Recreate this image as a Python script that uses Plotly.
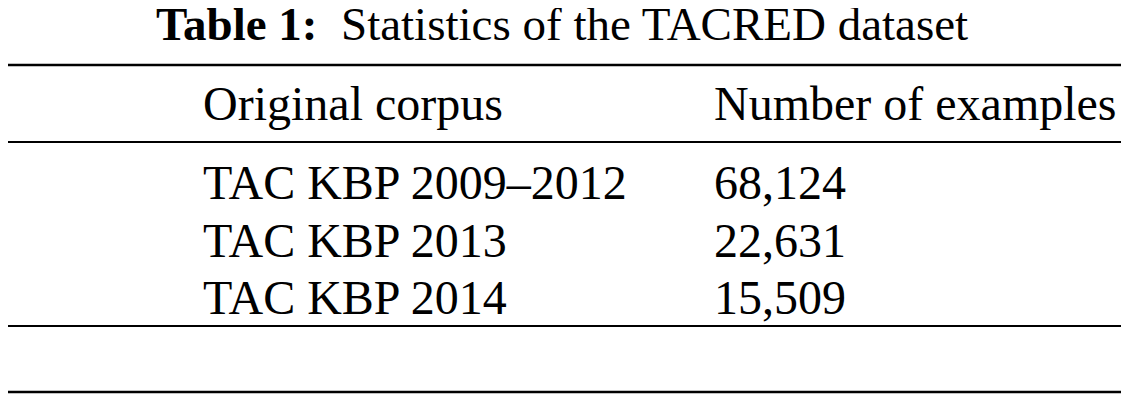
import plotly.graph_objects as go

title_bold = "Table 1:"
title_text = "Statistics of the TACRED dataset"
headers = ["Split", "Original corpus", "Number of examples"]
splits = ["Train", "Dev", "Test"]
corpora = ["TAC KBP 2009–2012", "TAC KBP 2013", "TAC KBP 2014"]
examples = ["68,124", "22,631", "15,509"]
total_row = "Total 106,264"

col_x = [6, 201, 712]
row_y = [182, 240, 297]
font = dict(family="Liberation Serif", size=48, color="black")

fig = go.Figure()
ann = []
ann.append(dict(x=562, y=24, text=f"<b>{title_bold}</b>  {title_text}", showarrow=False,
                xanchor="center", yanchor="middle", font=dict(family="Liberation Serif", size=47, color="black")))
for h, x in zip(headers, col_x):
    ann.append(dict(x=x, y=103, text=h, showarrow=False, xanchor="left", yanchor="middle", font=font))
for i, y in enumerate(row_y):
    for val, x in zip([splits[i], corpora[i], examples[i]], col_x):
        ann.append(dict(x=x, y=y, text=val, showarrow=False, xanchor="left", yanchor="middle", font=font))
ann.append(dict(x=col_x[0], y=355, text=total_row, showarrow=False, xanchor="left", yanchor="middle", font=font))

shapes = []
for y, w in [(65, 2.5), (142, 1.8), (326, 1.8), (392, 2.5)]:
    shapes.append(dict(type="line", x0=0, x1=1140, y0=y, y1=y, line=dict(color="black", width=w)))

fig.update_layout(width=1129, height=400, margin=dict(l=0, r=0, t=0, b=0),
                  paper_bgcolor="white", plot_bgcolor="white",
                  xaxis=dict(range=[8, 1137], visible=False, fixedrange=True),
                  yaxis=dict(range=[408, 8], visible=False, fixedrange=True),
                  annotations=ann, shapes=shapes, showlegend=False)
fig.write_html("out.html")
